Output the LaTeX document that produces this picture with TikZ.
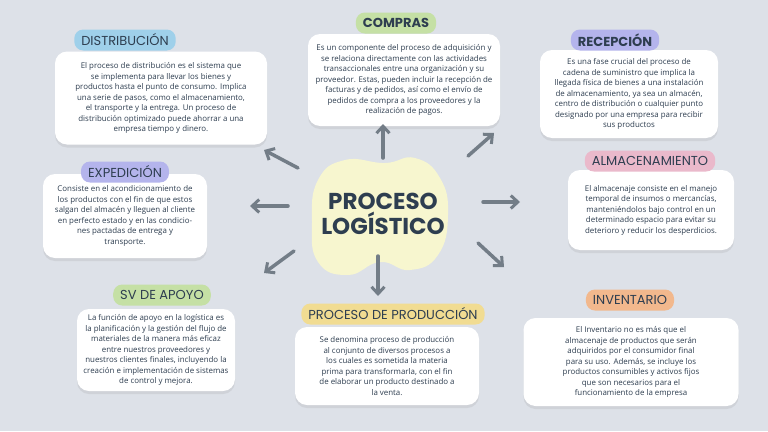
\documentclass[tikz,border=0pt]{standalone}
\usepackage{fontspec}
\setmainfont{Open Sans}
\newfontfamily\headfont{Poppins}
\usetikzlibrary{arrows.meta,shadows}
\definecolor{bg}{HTML}{DDE1E8}
\definecolor{ink}{HTML}{2E3E50}
\definecolor{arr}{HTML}{737D87}
\definecolor{cblue}{HTML}{9FD0EA}
\definecolor{clav}{HTML}{B4B4EC}
\definecolor{cgreen}{HTML}{C5E0A5}
\definecolor{cpink}{HTML}{EAB9CB}
\definecolor{cyel}{HTML}{F1DC92}
\definecolor{corange}{HTML}{F2B88D}
\definecolor{cblob}{HTML}{F7F6CF}
\tikzset{
  card/.style={fill=white,rounded corners=12pt,align=center,text=ink,font=\fontsize{7.9}{10.5}\selectfont,inner sep=0pt,drop shadow={shadow xshift=0pt,shadow yshift=-3pt,opacity=0.15}},
  tag/.style={rounded corners=9pt,text=ink,font=\headfont\fontsize{13}{13}\selectfont,inner xsep=7pt,minimum height=21pt},
  link/.style={draw=arr,line width=3.5pt,line cap=round,-{Straight Barb[length=7pt,width=13pt,line width=3pt]}}
}
\begin{document}
\begin{tikzpicture}[x=1pt,y=-1pt]
\fill[bg] (0,0) rectangle (768,431);
\useasboundingbox (0,0) rectangle (768,431);
% center blob
\fill[cblob] plot[smooth cycle,tension=0.8] coordinates{(318,180)(345,160)(385,163)(415,158)(440,178)(448,215)(438,255)(410,270)(380,262)(348,275)(318,262)(312,222)};
\node[text=ink,font=\headfont\bfseries\fontsize{23}{25}\selectfont,align=center] (c) at (383,214) {PROCESO\\LOGÍSTICO};

% cards
\node[card,minimum width=212pt,minimum height=93pt] (dist) at (161,98) {El proceso de distribución es el sistema que\\se implementa para llevar los bienes y\\productos hasta el punto de consumo. Implica\\una serie de pasos, como el almacenamiento,\\el transporte y la entrega. Un proceso de\\distribución optimizado puede ahorrar a una\\empresa tiempo y dinero.};
\node[tag,fill=cblue] (distT) at (125,40) {DISTRIBUCIÓN};

\node[card,minimum width=164pt,minimum height=84pt] (exp) at (125,216) {Consiste en el acondicionamiento de\\los productos con el fin de que estos\\salgan del almacén y lleguen al cliente\\en perfecto estado y en las condicio-\\nes pactadas de entrega y\\transporte.};
\node[tag,fill=clav] (expT) at (125,172) {EXPEDICIÓN};

\node[card,minimum width=158pt,minimum height=82pt] (sv) at (156,350) {La función de apoyo en la logística es\\la planificación y la gestión del flujo de\\materiales de la manera más eficaz\\entre nuestros proveedores y\\nuestros clientes finales, incluyendo la\\creación e implementación de sistemas\\de control y mejora.};
\node[tag,fill=cgreen] (svT) at (162,295) {SV DE APOYO};

\node[card,minimum width=192pt,minimum height=92pt] (comp) at (404,80) {Es un componente del proceso de adquisición y\\se relaciona directamente con las actividades\\transaccionales entre una organización y su\\proveedor. Estas, pueden incluir la recepción de\\facturas y de pedidos, así como el envío de\\pedidos de compra a los proveedores y la\\realización de pagos.};
\node[tag,fill=cgreen,font=\headfont\bfseries\fontsize{13}{13}\selectfont] (compT) at (396,23) {COMPRAS};

\node[card,minimum width=178pt,minimum height=88pt] (rec) at (629,94) {Es una fase crucial del proceso de\\cadena de suministro que implica la\\llegada física de bienes a una instalación\\de almacenamiento, ya sea un almacén,\\centro de distribución o cualquier punto\\designado por una empresa para recibir\\sus productos};
\node[tag,fill=clav,font=\headfont\bfseries\fontsize{13}{13}\selectfont] (recT) at (615,40) {RECEPCIÓN};

\node[card,minimum width=166pt,minimum height=80pt] (alm) at (651,210) {El almacenaje consiste en el manejo\\temporal de insumos o mercancías,\\manteniéndolos bajo control en un\\determinado espacio para evitar su\\deterioro y reducir los desperdicios.};
\node[tag,fill=cpink] (almT) at (650,161) {ALMACENAMIENTO};

\node[card,minimum width=184pt,minimum height=78pt] (prod) at (387,366) {Se denomina proceso de producción\\al conjunto de diversos procesos a\\los cuales es sometida la materia\\prima para transformarla, con el fin\\de elaborar un producto destinado a\\la venta.};
\node[tag,fill=cyel] (prodT) at (393,314) {PROCESO DE PRODUCCIÓN};

\node[card,minimum width=215pt,minimum height=88pt] (inv) at (631,362) {El Inventario no es más que el\\almacenaje de productos que serán\\adquiridos por el consumidor final\\para su uso. Además, se incluye los\\productos consumibles y activos fijos\\que son necesarios para el\\funcionamiento de la empresa};
\node[tag,fill=corange] (invT) at (630,300) {INVENTARIO};

% arrows
\coordinate (a1s) at (383,158); \coordinate (a1e) at (383,124);
\coordinate (a2s) at (468,156); \coordinate (a2e) at (494,133);
\coordinate (a3s) at (483,202); \coordinate (a3e) at (520,202);
\coordinate (a4s) at (478,243); \coordinate (a4e) at (504,267);
\coordinate (a5s) at (378,256); \coordinate (a5e) at (378,296);
\coordinate (a6s) at (294,251); \coordinate (a6e) at (264,273);
\coordinate (a7s) at (288,206); \coordinate (a7e) at (250,206);
\coordinate (a8s) at (298,168); \coordinate (a8e) at (264,150);
\foreach \i in {1,...,8} \draw[link] (a\i s) -- (a\i e);
\end{tikzpicture}
\end{document}
